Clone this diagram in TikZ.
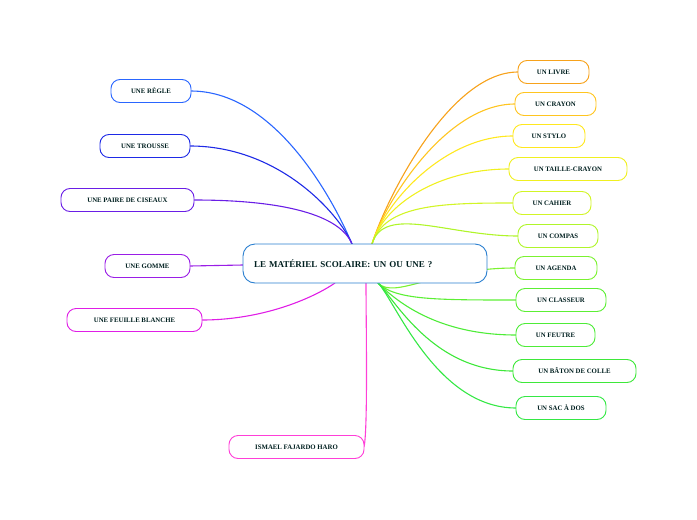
\documentclass[tikz,border=0pt]{standalone}
\usepackage{fontspec}
\setmainfont{Liberation Serif}
\usetikzlibrary{calc}
\begin{document}
\begin{tikzpicture}[x=1pt,y=-1pt,
 box/.style={draw,rounded corners=9pt,line width=0.9pt,fill=white,inner sep=2pt,
   minimum height=23pt,font=\bfseries\fontsize{6.8}{8}\selectfont,text=black!75!teal},
 lk/.style={line width=1.1pt}]
\useasboundingbox (0,0) rectangle (697,520);
\definecolor{cLivre}{HTML}{F7A21B}\definecolor{cCrayon}{HTML}{FFC520}
\definecolor{cStylo}{HTML}{FFE81F}\definecolor{cTaille}{HTML}{F0F020}
\definecolor{cCahier}{HTML}{D2F526}\definecolor{cCompas}{HTML}{B0F52A}
\definecolor{cAgenda}{HTML}{7BF230}\definecolor{cClass}{HTML}{5CEF34}
\definecolor{cFeutre}{HTML}{4EEC38}\definecolor{cBaton}{HTML}{3EE83A}
\definecolor{cSac}{HTML}{35E845}\definecolor{cRegle}{HTML}{2A66FF}
\definecolor{cTrousse}{HTML}{1E2AE6}\definecolor{cCis}{HTML}{6A1EE6}
\definecolor{cGomme}{HTML}{9A1EE6}\definecolor{cFeuille}{HTML}{E01EE6}
\definecolor{cIsm}{HTML}{FF3FD8}\definecolor{cMain}{HTML}{2A7FD0}
\coordinate (tr) at (372,244); \coordinate (br) at (378,283);
\coordinate (tl) at (352,244); \coordinate (bl) at (335,283);
\foreach \nm/\xa/\xb/\yy/\cl/\tx/\st in {
 livre/518/589/72/cLivre/UN LIVRE/tr,
 crayon/515/596/104/cCrayon/UN CRAYON/tr,
 stylo/513/585/136/cStylo/UN STYLO/tr,
 taille/509/627/169/cTaille/UN TAILLE-CRAYON/tr,
 cahier/513/591/203/cCahier/UN CAHIER/tr,
 compas/518/598/236/cCompas/UN COMPAS/tr}{
 \draw[lk,\cl] (\st) .. controls ($(\st)+(12,-40)$) and ({\xa-70},\yy) .. (\xa,\yy);
 \node[box,draw=\cl,minimum width={\xb-\xa}] (\nm) at ({(\xa+\xb)/2},\yy) {\tx};
}
\foreach \nm/\xa/\xb/\yy/\cl/\tx in {
 agenda/515/597/268/cAgenda/UN AGENDA,
 classeur/516/606/300/cClass/UN CLASSEUR,
 feutre/516/595/335/cFeutre/UN FEUTRE,
 baton/513/636/371/cBaton/UN BÂTON DE COLLE,
 sac/516/606/408/cSac/UN SAC À DOS}{
 \draw[lk,\cl] (br) .. controls (395,300) and ({\xa-80},\yy) .. (\xa,\yy);
 \node[box,draw=\cl,minimum width={\xb-\xa}] (\nm) at ({(\xa+\xb)/2},\yy) {\tx};
}
\foreach \nm/\xa/\xb/\yy/\cl/\tx in {
 regle/111/191/91/cRegle/UNE RÈGLE,
 trousse/100/190/146/cTrousse/UNE TROUSSE,
 ciseaux/61/194/200/cCis/UNE PAIRE DE CISEAUX}{
 \draw[lk,\cl] (\xb,\yy) .. controls ({\xb+90},\yy) and (340,215) .. (tl);
 \node[box,draw=\cl,minimum width={\xb-\xa}] (\nm) at ({(\xa+\xb)/2},\yy) {\tx};
}
\draw[lk,cGomme] (190,266) -- (243,265);
\node[box,draw=cGomme,minimum width=85] (gomme) at (147.5,266) {UNE GOMME};
\draw[lk,cFeuille] (202,320) .. controls (260,320) and (310,300) .. (bl);
\node[box,draw=cFeuille,minimum width=135] (feuille) at (134.5,320) {UNE FEUILLE BLANCHE};
\draw[lk,cIsm] (364,447) .. controls (368,430) and (366,320) .. (366,283);
\node[box,draw=cIsm,minimum width=135] (ismael) at (296.5,447) {ISMAEL FAJARDO HARO};
\node[box,draw=cMain,rounded corners=12pt,minimum width=244,minimum height=39,
 text width=222,align=left,font=\bfseries\fontsize{9}{10}\selectfont] (main) at (365,263.5)
 {LE MATÉRIEL SCOLAIRE: UN OU UNE ?};
\end{tikzpicture}
\end{document}
